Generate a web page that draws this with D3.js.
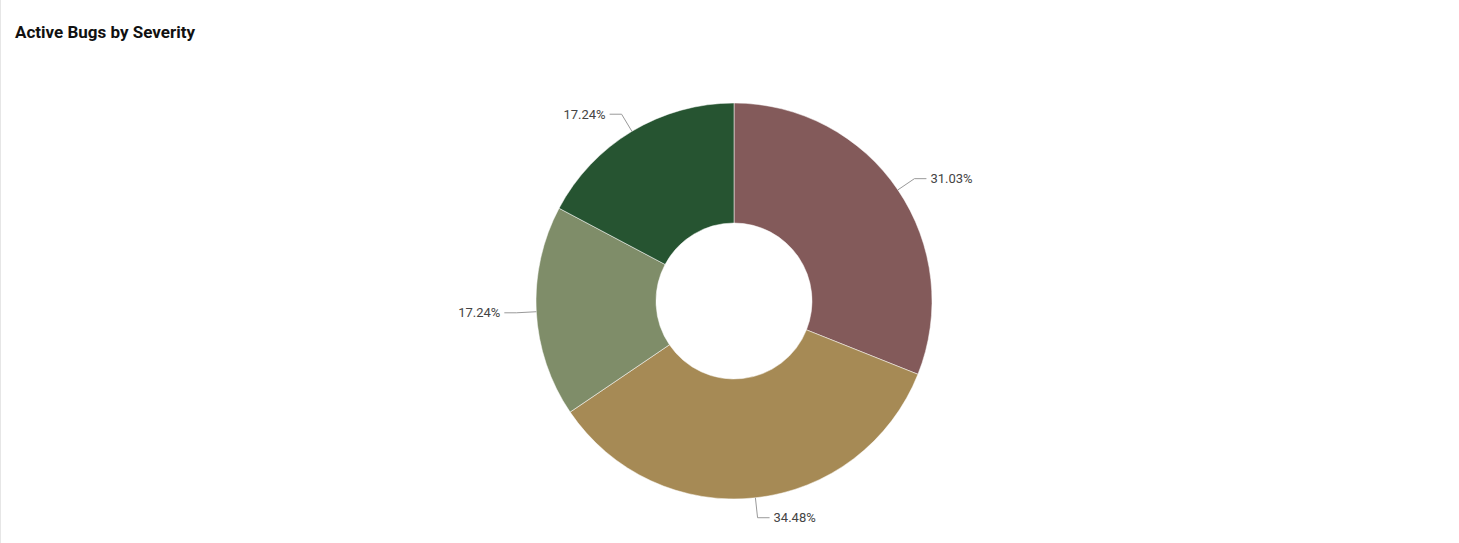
<!DOCTYPE html>
<html><head><meta charset="utf-8">
<script src="https://cdn.jsdelivr.net/npm/d3@7"></script>
<style>body{margin:0;background:#fff;font-family:Roboto,sans-serif;}</style>
</head><body>
<script>
const severities = ["2 - High", "3 - Medium", "4 - Low", "1 - Critical"];
const bugCounts = [9, 10, 5, 5];
const sliceColors = ["#835a5a", "#a68a55", "#7f8d69", "#265431"];

const W = 1459, H = 543;
const cx = 734, cy = 301, rOuter = 198, rInner = 78;

const svg = d3.select("body").append("svg").attr("width", W).attr("height", H);

svg.append("line").attr("x1", 0.5).attr("x2", 0.5).attr("y1", 0).attr("y2", H)
  .attr("stroke", "#e6e6e6");

svg.append("text").attr("x", 15).attr("y", 38)
  .attr("font-size", "17px").attr("font-weight", "bold").attr("fill", "#111")
  .text("Active Bugs by Severity");

const total = d3.sum(bugCounts);
const pie = d3.pie().sort(null).value(d => d)(bugCounts);
const arc = d3.arc().innerRadius(rInner).outerRadius(rOuter);
const color = d3.scaleOrdinal(severities, sliceColors);

const g = svg.append("g").attr("transform", `translate(${cx},${cy})`);

g.selectAll("path").data(pie).enter().append("path")
  .attr("d", arc)
  .attr("fill", (d, i) => color(severities[i]))
  .attr("stroke", "#fff").attr("stroke-width", 0.5);

const labels = g.selectAll(".lbl").data(pie).enter().append("g").attr("class", "lbl");

labels.each(function(d) {
  const a = (d.startAngle + d.endAngle) / 2;
  const sx = Math.sin(a), sy = -Math.cos(a);
  const p0 = [sx * rOuter, sy * rOuter];
  const p1 = [sx * (rOuter + 20), sy * (rOuter + 20)];
  const right = sx >= 0;
  const p2 = [p1[0] + (right ? 12 : -12), p1[1]];
  const sel = d3.select(this);
  sel.append("polyline")
    .attr("points", [p0, p1, p2].map(p => p.join(",")).join(" "))
    .attr("fill", "none").attr("stroke", "#999").attr("stroke-width", 1);
  sel.append("text")
    .attr("x", p2[0] + (right ? 4 : -4)).attr("y", p2[1])
    .attr("dy", "0.35em")
    .attr("text-anchor", right ? "start" : "end")
    .attr("font-size", "13px").attr("fill", "#444")
    .text((d.value / total * 100).toFixed(2) + "%");
});
</script>
</body></html>
